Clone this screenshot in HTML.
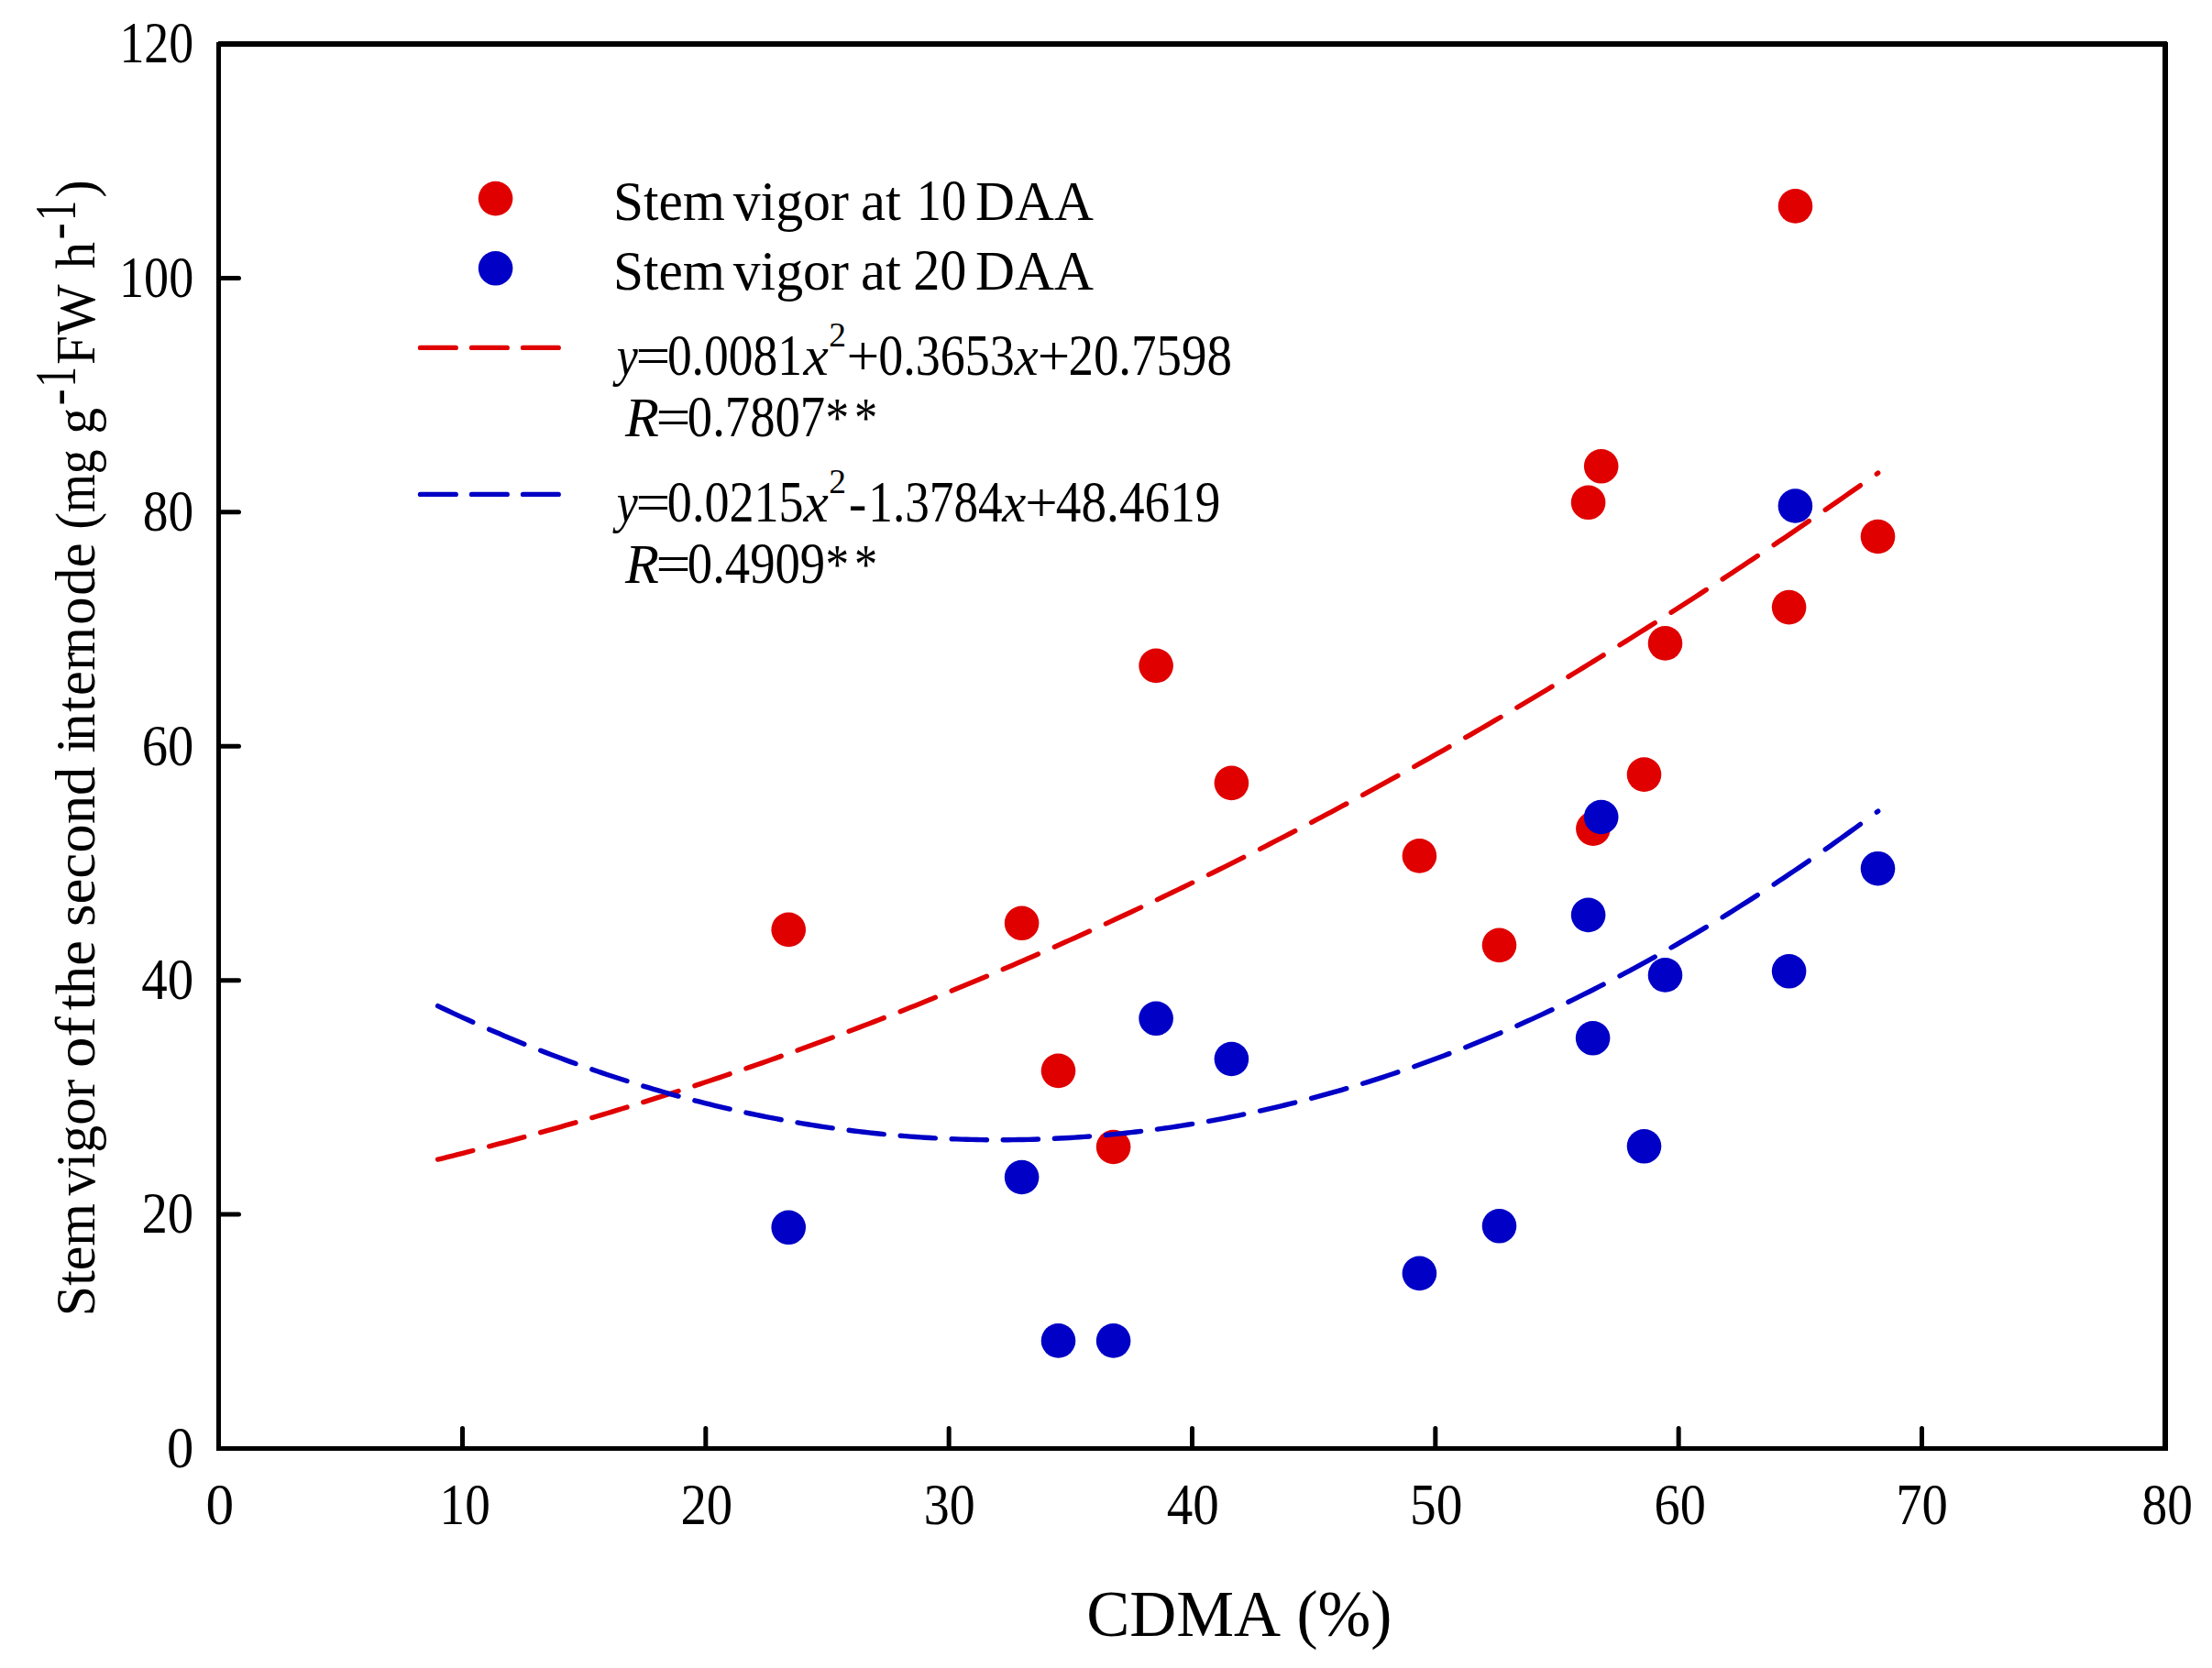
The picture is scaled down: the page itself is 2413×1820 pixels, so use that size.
<!DOCTYPE html>
<html lang="en">
<head>
<meta charset="utf-8">
<title>Stem vigor of the second internode vs CDMA</title>
<style>
html,body{margin:0;padding:0;background:#fff;}
body{width:2413px;height:1820px;overflow:hidden;}
svg{display:block;}
text{font-kerning:none;white-space:pre;}
</style>
</head>
<body>
<svg width="2413" height="1820" viewBox="0 0 2413 1820">
<title>Relationship between CDMA (%) and stem vigor of the second internode</title>
<rect x="0" y="0" width="2413" height="1820" fill="#fff"/>
<g fill="#000">
<rect x="236" y="46" width="5" height="1537"/>
<rect x="237" y="1578" width="2128" height="5"/>
<rect x="238" y="45" width="2126" height="6"/>
<rect x="2359" y="46" width="6" height="1537"/>
</g>
<path d="M241,1325.08 H260.5 M241,1069.67 H260.5 M241,814.25 H260.5 M241,558.83 H260.5 M241,303.42 H260.5 M504.5,1578 V1558.5 M769.83,1578 V1558.5 M1035.16,1578 V1558.5 M1300.49,1578 V1558.5 M1565.82,1578 V1558.5 M1831.15,1578 V1558.5 M2096.48,1578 V1558.5" stroke="#000" stroke-width="5" stroke-linecap="round" fill="none"/>
<g fill="#e00000">
<circle cx="540.6" cy="216.6" r="18.8"/>
<circle cx="860.2" cy="1014.4" r="18.8"/>
<circle cx="1114.6" cy="1007.3" r="18.8"/>
<circle cx="1154.5" cy="1168.4" r="18.8"/>
<circle cx="1214.6" cy="1251.5" r="18.8"/>
<circle cx="1261.1" cy="726.4" r="18.8"/>
<circle cx="1343.4" cy="854.4" r="18.8"/>
<circle cx="1548.4" cy="933.9" r="18.8"/>
<circle cx="1635.5" cy="1031.4" r="18.8"/>
<circle cx="1732.6" cy="548.3" r="18.8"/>
<circle cx="1737.9" cy="904.2" r="18.8"/>
<circle cx="1746.7" cy="508.8" r="18.8"/>
<circle cx="1793.5" cy="845.1" r="18.8"/>
<circle cx="1816.5" cy="701.9" r="18.8"/>
<circle cx="1951.6" cy="662.6" r="18.8"/>
<circle cx="1958.5" cy="224.9" r="18.8"/>
<circle cx="2048.5" cy="585.5" r="18.8"/>
</g>
<g fill="#0000c6">
<circle cx="540.6" cy="292.8" r="18.8"/>
<circle cx="860.2" cy="1339.3" r="18.8"/>
<circle cx="1114.6" cy="1284.5" r="18.8"/>
<circle cx="1154.5" cy="1462.9" r="18.8"/>
<circle cx="1214.6" cy="1462.9" r="18.8"/>
<circle cx="1261.1" cy="1111.3" r="18.8"/>
<circle cx="1343.4" cy="1155.5" r="18.8"/>
<circle cx="1548.4" cy="1389.4" r="18.8"/>
<circle cx="1635.5" cy="1337.8" r="18.8"/>
<circle cx="1732.6" cy="998.4" r="18.8"/>
<circle cx="1737.6" cy="1132.8" r="18.8"/>
<circle cx="1746.7" cy="891.5" r="18.8"/>
<circle cx="1793.5" cy="1250.8" r="18.8"/>
<circle cx="1816.5" cy="1063.9" r="18.8"/>
<circle cx="1951.6" cy="1059.8" r="18.8"/>
<circle cx="1958.4" cy="552" r="18.8"/>
<circle cx="2048.5" cy="947.7" r="18.8"/>
</g>
<g fill="none" stroke-width="5.4" stroke-linecap="round" stroke-linejoin="round">
<path stroke="#e00000" d="M477.6,1265.1 L483.06,1263.76 L488.51,1262.4 L493.97,1261.04 L499.43,1259.67 L504.89,1258.29 L510.34,1256.9 L515.8,1255.5 M533.66,1250.86 L539.12,1249.42 L544.57,1247.98 L550.03,1246.52 L555.49,1245.06 L560.95,1243.59 L566.4,1242.11 L571.86,1240.62 M589.72,1235.69 L595.18,1234.16 L600.63,1232.63 L606.09,1231.08 L611.55,1229.53 L617.01,1227.97 L622.46,1226.4 L627.92,1224.82 M645.78,1219.59 L651.24,1217.98 L656.69,1216.35 L662.15,1214.72 L667.61,1213.08 L673.07,1211.43 L678.52,1209.77 L683.98,1208.1 M701.84,1202.58 L707.3,1200.87 L712.75,1199.16 L718.21,1197.43 L723.67,1195.7 L729.13,1193.96 L734.58,1192.21 L740.04,1190.45 M757.9,1184.64 L763.36,1182.84 L768.81,1181.04 L774.27,1179.22 L779.73,1177.4 L785.19,1175.57 L790.64,1173.73 L796.1,1171.88 M813.96,1165.77 L819.42,1163.89 L824.87,1161.99 L830.33,1160.09 L835.79,1158.18 L841.25,1156.26 L846.7,1154.33 L852.16,1152.39 M870.02,1145.98 L875.48,1144.01 L880.93,1142.02 L886.39,1140.03 L891.85,1138.03 L897.31,1136.02 L902.76,1134 L908.22,1131.97 M926.08,1125.27 L931.54,1123.21 L936.99,1121.13 L942.45,1119.05 L947.91,1116.96 L953.37,1114.86 L958.82,1112.75 L964.28,1110.63 M982.14,1103.64 L987.6,1101.48 L993.05,1099.32 L998.51,1097.14 L1003.97,1094.96 L1009.43,1092.77 L1014.88,1090.57 L1020.34,1088.37 M1038.2,1081.08 L1043.66,1078.83 L1049.11,1076.58 L1054.57,1074.32 L1060.03,1072.04 L1065.49,1069.76 L1070.94,1067.48 L1076.4,1065.18 M1094.26,1057.6 L1099.72,1055.26 L1105.17,1052.92 L1110.63,1050.56 L1116.09,1048.2 L1121.55,1045.83 L1127,1043.45 L1132.46,1041.07 M1150.32,1033.19 L1155.78,1030.76 L1161.23,1028.33 L1166.69,1025.89 L1172.15,1023.44 L1177.61,1020.98 L1183.06,1018.51 L1188.52,1016.03 M1206.38,1007.86 L1211.84,1005.35 L1217.29,1002.82 L1222.75,1000.29 L1228.21,997.75 L1233.67,995.2 L1239.12,992.64 L1244.58,990.07 M1262.44,981.61 L1267.9,979 L1273.35,976.39 L1278.81,973.77 L1284.27,971.14 L1289.73,968.5 L1295.18,965.85 L1300.64,963.19 M1318.5,954.43 L1323.96,951.74 L1329.41,949.03 L1334.87,946.32 L1340.33,943.6 L1345.79,940.87 L1351.24,938.13 L1356.7,935.38 M1374.56,926.33 L1380.02,923.55 L1385.47,920.75 L1390.93,917.95 L1396.39,915.14 L1401.85,912.32 L1407.3,909.49 L1412.76,906.65 M1430.62,897.31 L1436.08,894.43 L1441.53,891.55 L1446.99,888.66 L1452.45,885.76 L1457.91,882.85 L1463.36,879.93 L1468.82,877 M1486.68,867.36 L1492.14,864.4 L1497.59,861.42 L1503.05,858.44 L1508.51,855.45 L1513.97,852.45 L1519.42,849.44 L1524.88,846.42 M1542.74,836.49 L1548.2,833.43 L1553.65,830.37 L1559.11,827.3 L1564.57,824.22 L1570.03,821.13 L1575.48,818.03 L1580.94,814.92 M1598.8,804.69 L1604.26,801.55 L1609.71,798.4 L1615.17,795.24 L1620.63,792.07 L1626.09,788.89 L1631.54,785.7 L1637,782.5 M1654.86,771.98 L1660.32,768.74 L1665.77,765.5 L1671.23,762.25 L1676.69,758.99 L1682.15,755.72 L1687.6,752.44 L1693.06,749.15 M1710.92,738.34 L1716.38,735.01 L1721.83,731.68 L1727.29,728.34 L1732.75,724.99 L1738.21,721.63 L1743.66,718.26 L1749.12,714.88 M1766.98,703.77 L1772.44,700.36 L1777.89,696.93 L1783.35,693.5 L1788.81,690.06 L1794.27,686.61 L1799.72,683.15 L1805.18,679.69 M1823.04,668.28 L1828.5,664.78 L1833.95,661.27 L1839.41,657.74 L1844.87,654.21 L1850.33,650.67 L1855.78,647.13 L1861.24,643.57 M1879.1,631.87 L1884.56,628.28 L1890.01,624.67 L1895.47,621.06 L1900.93,617.44 L1906.39,613.81 L1911.84,610.18 L1917.3,606.53 M1935.16,594.53 L1940.62,590.85 L1946.07,587.16 L1951.53,583.46 L1956.99,579.75 L1962.45,576.03 L1967.9,572.3 L1973.36,568.56 M1991.22,556.27 L1996.68,552.5 L2002.13,548.72 L2007.59,544.93 L2013.05,541.13 L2018.51,537.32 L2023.96,533.5 L2029.42,529.68 M2047.28,517.09 L2048,516.58 L2048.72,516.07"/>
<path stroke="#0000c6" d="M477.6,1097.62 L483.06,1100.21 L488.51,1102.78 L493.97,1105.33 L499.43,1107.85 L504.89,1110.35 L510.34,1112.83 L515.8,1115.29 M533.66,1123.16 L539.12,1125.51 L544.57,1127.84 L550.03,1130.15 L555.49,1132.44 L560.95,1134.7 L566.4,1136.94 L571.86,1139.16 M589.72,1146.25 L595.18,1148.36 L600.63,1150.46 L606.09,1152.53 L611.55,1154.57 L617.01,1156.6 L622.46,1158.6 L627.92,1160.58 M645.78,1166.88 L651.24,1168.76 L656.69,1170.62 L662.15,1172.45 L667.61,1174.26 L673.07,1176.04 L678.52,1177.8 L683.98,1179.54 M701.84,1185.07 L707.3,1186.71 L712.75,1188.33 L718.21,1189.92 L723.67,1191.49 L729.13,1193.04 L734.58,1194.56 L740.04,1196.06 M757.9,1200.81 L763.36,1202.21 L768.81,1203.58 L774.27,1204.94 L779.73,1206.27 L785.19,1207.58 L790.64,1208.86 L796.1,1210.12 M813.96,1214.09 L819.42,1215.25 L824.87,1216.39 L830.33,1217.51 L835.79,1218.6 L841.25,1219.67 L846.7,1220.71 L852.16,1221.74 M870.02,1224.92 L875.48,1225.85 L880.93,1226.75 L886.39,1227.62 L891.85,1228.48 L897.31,1229.31 L902.76,1230.12 L908.22,1230.9 M926.08,1233.3 L931.54,1233.99 L936.99,1234.65 L942.45,1235.29 L947.91,1235.9 L953.37,1236.5 L958.82,1237.06 L964.28,1237.61 M982.14,1239.23 L987.6,1239.68 L993.05,1240.1 L998.51,1240.5 L1003.97,1240.88 L1009.43,1241.23 L1014.88,1241.56 L1020.34,1241.87 M1038.2,1242.71 L1043.66,1242.92 L1049.11,1243.1 L1054.57,1243.26 L1060.03,1243.4 L1065.49,1243.52 L1070.94,1243.61 L1076.4,1243.68 M1094.26,1243.74 L1099.72,1243.71 L1105.17,1243.65 L1110.63,1243.57 L1116.09,1243.47 L1121.55,1243.35 L1127,1243.2 L1132.46,1243.03 M1150.32,1242.31 L1155.78,1242.04 L1161.23,1241.75 L1166.69,1241.43 L1172.15,1241.09 L1177.61,1240.73 L1183.06,1240.35 L1188.52,1239.94 M1206.38,1238.44 L1211.84,1237.93 L1217.29,1237.4 L1222.75,1236.84 L1228.21,1236.26 L1233.67,1235.66 L1239.12,1235.04 L1244.58,1234.39 M1262.44,1232.11 L1267.9,1231.36 L1273.35,1230.59 L1278.81,1229.8 L1284.27,1228.98 L1289.73,1228.14 L1295.18,1227.28 L1300.64,1226.39 M1318.5,1223.33 L1323.96,1222.34 L1329.41,1221.34 L1334.87,1220.3 L1340.33,1219.25 L1345.79,1218.17 L1351.24,1217.07 L1356.7,1215.94 M1374.56,1212.1 L1380.02,1210.87 L1385.47,1209.63 L1390.93,1208.36 L1396.39,1207.06 L1401.85,1205.75 L1407.3,1204.41 L1412.76,1203.04 M1430.62,1198.42 L1436.08,1196.95 L1441.53,1195.47 L1446.99,1193.96 L1452.45,1192.43 L1457.91,1190.87 L1463.36,1189.29 L1468.82,1187.69 M1486.68,1182.28 L1492.14,1180.58 L1497.59,1178.86 L1503.05,1177.11 L1508.51,1175.34 L1513.97,1173.54 L1519.42,1171.73 L1524.88,1169.89 M1542.74,1163.7 L1548.2,1161.76 L1553.65,1159.8 L1559.11,1157.81 L1564.57,1155.8 L1570.03,1153.77 L1575.48,1151.71 L1580.94,1149.63 M1598.8,1142.66 L1604.26,1140.48 L1609.71,1138.28 L1615.17,1136.06 L1620.63,1133.81 L1626.09,1131.54 L1631.54,1129.24 L1637,1126.92 M1654.86,1119.17 L1660.32,1116.76 L1665.77,1114.32 L1671.23,1111.85 L1676.69,1109.37 L1682.15,1106.86 L1687.6,1104.32 L1693.06,1101.77 M1710.92,1093.24 L1716.38,1090.58 L1721.83,1087.9 L1727.29,1085.2 L1732.75,1082.47 L1738.21,1079.72 L1743.66,1076.95 L1749.12,1074.16 M1766.98,1064.84 L1772.44,1061.95 L1777.89,1059.03 L1783.35,1056.09 L1788.81,1053.13 L1794.27,1050.14 L1799.72,1047.13 L1805.18,1044.09 M1823.04,1034 L1828.5,1030.87 L1833.95,1027.71 L1839.41,1024.53 L1844.87,1021.33 L1850.33,1018.1 L1855.78,1014.85 L1861.24,1011.58 M1879.1,1000.71 L1884.56,997.34 L1890.01,993.94 L1895.47,990.52 L1900.93,987.08 L1906.39,983.62 L1911.84,980.13 L1917.3,976.62 M1935.16,964.96 L1940.62,961.35 L1946.07,957.72 L1951.53,954.06 L1956.99,950.38 L1962.45,946.68 L1967.9,942.95 L1973.36,939.2 M1991.22,926.77 L1996.68,922.92 L2002.13,919.05 L2007.59,915.15 L2013.05,911.23 L2018.51,907.29 L2023.96,903.32 L2029.42,899.34 M2047.28,886.12 L2048,885.58 L2048.72,885.04"/>
<path stroke="#e00000" d="M458.5,379.4 H497.2 M514.5,379.4 H553.2 M570.5,379.4 H609.2"/>
<path stroke="#0000c6" d="M458.5,539.4 H497.2 M514.5,539.4 H553.2 M570.5,539.4 H609.2"/>
</g>
<g font-family='"Liberation Serif", "Times New Roman", Times, serif' fill="#000">
<text font-size="62.5"><tspan lengthAdjust="spacingAndGlyphs" x="130.39" y="68.3" textLength="80.74">120</tspan></text>
<text font-size="62.5"><tspan lengthAdjust="spacingAndGlyphs" x="130.08" y="323.72" textLength="81.07">100</tspan></text>
<text font-size="62.5"><tspan lengthAdjust="spacingAndGlyphs" x="155.83" y="579.13" textLength="55.36">80</tspan></text>
<text font-size="62.5"><tspan lengthAdjust="spacingAndGlyphs" x="154.69" y="834.55" textLength="56.55">60</tspan></text>
<text font-size="62.5"><tspan lengthAdjust="spacingAndGlyphs" x="154.29" y="1089.97" textLength="56.96">40</tspan></text>
<text font-size="62.5"><tspan lengthAdjust="spacingAndGlyphs" x="154.48" y="1345.38" textLength="56.76">20</tspan></text>
<text font-size="62.5"><tspan lengthAdjust="spacingAndGlyphs" x="182.03" y="1600.8" textLength="29.28">0</tspan></text>
<text font-size="62.5"><tspan lengthAdjust="spacingAndGlyphs" x="224.44" y="1663.3" textLength="30.67">0</tspan></text>
<text font-size="62.5"><tspan lengthAdjust="spacingAndGlyphs" x="479.58" y="1663.3" textLength="55.2">10</tspan></text>
<text font-size="62.5"><tspan lengthAdjust="spacingAndGlyphs" x="742.48" y="1663.3" textLength="56.76">20</tspan></text>
<text font-size="62.5"><tspan lengthAdjust="spacingAndGlyphs" x="1007.81" y="1663.3" textLength="55.9">30</tspan></text>
<text font-size="62.5"><tspan lengthAdjust="spacingAndGlyphs" x="1272.79" y="1663.3" textLength="57.07">40</tspan></text>
<text font-size="62.5"><tspan lengthAdjust="spacingAndGlyphs" x="1537.94" y="1663.3" textLength="57.42">50</tspan></text>
<text font-size="62.5"><tspan lengthAdjust="spacingAndGlyphs" x="1804.5" y="1663.3" textLength="56.33">60</tspan></text>
<text font-size="62.5"><tspan lengthAdjust="spacingAndGlyphs" x="2068.17" y="1663.3" textLength="56.67">70</tspan></text>
<text font-size="62.5"><tspan lengthAdjust="spacingAndGlyphs" x="2336.53" y="1663.3" textLength="55.36">80</tspan></text>
<text font-size="72.5"><tspan lengthAdjust="spacingAndGlyphs" x="1185.15" y="1785" textLength="212">CDMA</tspan> <tspan lengthAdjust="spacingAndGlyphs" x="1414.43" y="1785" textLength="103.87">(%)</tspan></text>
<text font-size="60.5"><tspan lengthAdjust="spacingAndGlyphs" x="668.98" y="239.7" textLength="121.98">Stem</tspan> <tspan lengthAdjust="spacingAndGlyphs" x="799.7" y="239.7" textLength="126.25">vigor</tspan> <tspan lengthAdjust="spacingAndGlyphs" x="938.99" y="239.7" textLength="43.92">at</tspan> <tspan lengthAdjust="spacingAndGlyphs" x="999.75" y="239.7" textLength="54.41" font-size="62.5">10</tspan> <tspan lengthAdjust="spacingAndGlyphs" x="1064.12" y="239.7" textLength="128.88">DAA</tspan></text>
<text font-size="60.5"><tspan lengthAdjust="spacingAndGlyphs" x="668.98" y="315.6" textLength="121.98">Stem</tspan> <tspan lengthAdjust="spacingAndGlyphs" x="799.7" y="315.6" textLength="126.25">vigor</tspan> <tspan lengthAdjust="spacingAndGlyphs" x="938.99" y="315.6" textLength="43.92">at</tspan> <tspan lengthAdjust="spacingAndGlyphs" x="996.14" y="315.6" textLength="58.15" font-size="62.5">20</tspan> <tspan lengthAdjust="spacingAndGlyphs" x="1064.12" y="315.6" textLength="128.88">DAA</tspan></text>
<text font-size="60.5"><tspan lengthAdjust="spacingAndGlyphs" x="672.66" y="408.8" textLength="23.11" font-style="italic">y</tspan><tspan lengthAdjust="spacingAndGlyphs" x="693.58" y="408.8" textLength="37.77">=</tspan><tspan lengthAdjust="spacingAndGlyphs" x="727.89" y="408.8" textLength="147.09" font-size="62.5">0.0081</tspan><tspan lengthAdjust="spacingAndGlyphs" x="876.42" y="408.8" textLength="27.33" font-style="italic">x</tspan><tspan lengthAdjust="spacingAndGlyphs" x="904.29" y="378.3" textLength="18.73" font-size="37">2</tspan><tspan lengthAdjust="spacingAndGlyphs" x="923.46" y="408.8" textLength="35.77">+</tspan><tspan lengthAdjust="spacingAndGlyphs" x="958.17" y="408.8" textLength="148.57" font-size="62.5">0.3653</tspan><tspan lengthAdjust="spacingAndGlyphs" x="1106.86" y="408.8" textLength="25.89" font-style="italic">x</tspan><tspan lengthAdjust="spacingAndGlyphs" x="1131.89" y="408.8" textLength="35.41">+</tspan><tspan lengthAdjust="spacingAndGlyphs" x="1165.44" y="408.8" textLength="178.43" font-size="62.5">20.7598</tspan></text>
<text font-size="60.5"><tspan lengthAdjust="spacingAndGlyphs" x="682.1" y="475.7" textLength="36.96" font-style="italic">R</tspan><tspan lengthAdjust="spacingAndGlyphs" x="715.56" y="475.7" textLength="38">=</tspan><tspan lengthAdjust="spacingAndGlyphs" x="749.85" y="475.7" textLength="150.24" font-size="62.5">0.7807</tspan><tspan lengthAdjust="spacingAndGlyphs" x="900.61" y="475.7" textLength="25.6">*</tspan><tspan lengthAdjust="spacingAndGlyphs" x="931.94" y="475.7" textLength="25.13">*</tspan></text>
<text font-size="60.5"><tspan lengthAdjust="spacingAndGlyphs" x="672.66" y="568.8" textLength="23.11" font-style="italic">y</tspan><tspan lengthAdjust="spacingAndGlyphs" x="693.58" y="568.8" textLength="37.77">=</tspan><tspan lengthAdjust="spacingAndGlyphs" x="727.87" y="568.8" textLength="148.68" font-size="62.5">0.0215</tspan><tspan lengthAdjust="spacingAndGlyphs" x="876.42" y="568.8" textLength="27.33" font-style="italic">x</tspan><tspan lengthAdjust="spacingAndGlyphs" x="904.29" y="538.3" textLength="18.73" font-size="37">2</tspan><tspan lengthAdjust="spacingAndGlyphs" x="925.75" y="568.8" textLength="19.64">-</tspan><tspan lengthAdjust="spacingAndGlyphs" x="947.34" y="568.8" textLength="146.27" font-size="62.5">1.3784</tspan><tspan lengthAdjust="spacingAndGlyphs" x="1093.27" y="568.8" textLength="25.99" font-style="italic">x</tspan><tspan lengthAdjust="spacingAndGlyphs" x="1118.39" y="568.8" textLength="35.41">+</tspan><tspan lengthAdjust="spacingAndGlyphs" x="1151.82" y="568.8" textLength="179.57" font-size="62.5">48.4619</tspan></text>
<text font-size="60.5"><tspan lengthAdjust="spacingAndGlyphs" x="682.1" y="635.7" textLength="36.96" font-style="italic">R</tspan><tspan lengthAdjust="spacingAndGlyphs" x="715.56" y="635.7" textLength="38">=</tspan><tspan lengthAdjust="spacingAndGlyphs" x="749.85" y="635.7" textLength="150.32" font-size="62.5">0.4909</tspan><tspan lengthAdjust="spacingAndGlyphs" x="900.61" y="635.7" textLength="25.6">*</tspan><tspan lengthAdjust="spacingAndGlyphs" x="931.94" y="635.7" textLength="25.13">*</tspan></text>
<text font-size="60.5" transform="matrix(0 -1 1 0 0 0)"><tspan lengthAdjust="spacingAndGlyphs" x="-1436.16" y="103.2" textLength="123.12">Stem</tspan> <tspan lengthAdjust="spacingAndGlyphs" x="-1304.5" y="103.2" textLength="126.65">vigor</tspan> <tspan lengthAdjust="spacingAndGlyphs" x="-1165.12" y="103.2" textLength="55.97">of</tspan> <tspan lengthAdjust="spacingAndGlyphs" x="-1102.2" y="103.2" textLength="76.01">the</tspan> <tspan lengthAdjust="spacingAndGlyphs" x="-1010.98" y="103.2" textLength="174.44">second</tspan> <tspan x="-821.5 -808.75 -776.8 -758.95 -731.85 -714.45 -681.75 -649.75 -619.2" y="103.2">internode</tspan> <tspan lengthAdjust="spacingAndGlyphs" x="-577.77" y="103.2" textLength="18.84">(</tspan><tspan lengthAdjust="spacingAndGlyphs" x="-558.98" y="103.2" textLength="68.41">mg</tspan> <tspan lengthAdjust="spacingAndGlyphs" x="-473.59" y="103.2" textLength="28.52">g</tspan><tspan lengthAdjust="spacingAndGlyphs" x="-442.51" y="81.9" textLength="18.26">-</tspan><tspan lengthAdjust="spacingAndGlyphs" x="-422.61" y="81.9" textLength="22.55" font-size="62.5">1</tspan><tspan lengthAdjust="spacingAndGlyphs" x="-398.05" y="103.2" textLength="31.8">F</tspan><tspan lengthAdjust="spacingAndGlyphs" x="-365.2" y="103.2" textLength="54.8">W</tspan> <tspan lengthAdjust="spacingAndGlyphs" x="-293.3" y="103.2" textLength="29.24">h</tspan><tspan lengthAdjust="spacingAndGlyphs" x="-261.51" y="81.9" textLength="18.26">-</tspan><tspan lengthAdjust="spacingAndGlyphs" x="-240.8" y="81.9" textLength="21.88" font-size="62.5">1</tspan><tspan lengthAdjust="spacingAndGlyphs" x="-215.76" y="103.2" textLength="19.44">)</tspan></text>
</g>
</svg>
</body>
</html>
